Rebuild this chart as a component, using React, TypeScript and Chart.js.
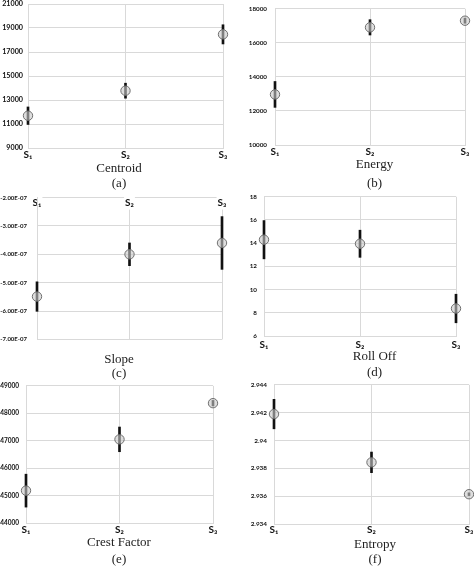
import React, { useEffect, useRef } from 'react';
import { Chart, registerables } from 'chart.js';

Chart.register(...registerables);

// ---- data ----
const categories = ['S₁', 'S₂', 'S₃'];

const centroidMean = [11690, 13775, 18470];
const centroidErr = [730, 625, 800];
const centroidAxis = [9000, 21000, 2000];

const energyMean = [12970, 16910, 17300];
const energyErr = [760, 450, 150];
const energyAxis = [10000, 18000, 2000];

const slopeMean = [-5.49e-7, -4.0e-7, -3.6e-7];
const slopeErr = [0.52e-7, 0.4e-7, 0.93e-7];
const slopeAxis = [-7e-7, -2e-7, 1e-7];

const rollOffMean = [14.3, 13.95, 8.37];
const rollOffErr = [1.65, 1.17, 1.23];
const rollOffAxis = [6, 18, 2];

const crestMean = [45180, 47050, 48370];
const crestErr = [600, 450, 100];
const crestAxis = [44000, 49000, 1000];

const entropyMean = [2.9419, 2.93843, 2.93614];
const entropyErr = [0.00106, 0.00074, 0.0001];
const entropyAxis = [2.934, 2.944, 0.002];

// ---- formatters ----
const fmtPlain = (v: number) => String(Math.round(v));
const fmtDec = (v: number) => String(parseFloat(v.toFixed(3)));
const fmtExp = (v: number) => {
  const [m, e] = v.toExponential(2).split('e');
  const n = parseInt(e, 10);
  return m.toUpperCase() + 'E' + (n < 0 ? '-' : '+') + String(Math.abs(n)).padStart(2, '0');
};

const GRID = '#d9d9d9';
const TICK_FONT = "Lato, 'DejaVu Sans', sans-serif";
const SERIF = "'Liberation Serif', 'Times New Roman', serif";

type Spec = {
  mean: number[];
  err: number[];
  axis: number[];
  fmt: (v: number) => string;
  L: number; R: number; T: number; B: number;
  tickSize: number; tickPad: number;
  xTop?: boolean; xPad: number;
  name: string; letter: string;
  cx: number; nameBase: number; letterBase: number;
};

const specs: Spec[] = [
  { mean: centroidMean, err: centroidErr, axis: centroidAxis, fmt: fmtPlain,
    L: 27.7, R: 222.7, T: 4, B: 148, tickSize: 7.2, tickPad: 5, xPad: 1,
    name: 'Centroid', letter: '(a)', cx: 119, nameBase: 172.5, letterBase: 187 },
  { mean: energyMean, err: energyErr, axis: energyAxis, fmt: fmtPlain,
    L: 275.3, R: 465.7, T: 7.3, B: 145.7, tickSize: 6.3, tickPad: 8, xPad: 1,
    name: 'Energy', letter: '(b)', cx: 374.5, nameBase: 168.5, letterBase: 187 },
  { mean: slopeMean, err: slopeErr, axis: slopeAxis, fmt: fmtExp,
    L: 36.7, R: 221.7, T: 194.3, B: 347.5, tickSize: 6, tickPad: 10, xTop: true, xPad: -1,
    name: 'Slope', letter: '(c)', cx: 119, nameBase: 363.5, letterBase: 377 },
  { mean: rollOffMean, err: rollOffErr, axis: rollOffAxis, fmt: fmtPlain,
    L: 263.7, R: 455.3, T: 196, B: 335.7, tickSize: 6.3, tickPad: 7, xPad: 2.6,
    name: 'Roll Off', letter: '(d)', cx: 374.5, nameBase: 360.5, letterBase: 376 },
  { mean: crestMean, err: crestErr, axis: crestAxis, fmt: fmtPlain,
    L: 25.7, R: 212.7, T: 385.3, B: 523, tickSize: 6.5, tickPad: 7, xPad: 0.3,
    name: 'Crest Factor', letter: '(e)', cx: 119, nameBase: 546, letterBase: 563 },
  { mean: entropyMean, err: entropyErr, axis: entropyAxis, fmt: fmtDec,
    L: 273.7, R: 468.7, T: 384.3, B: 524.3, tickSize: 6.4, tickPad: 7, xPad: 0,
    name: 'Entropy', letter: '(f)', cx: 375, nameBase: 548.5, letterBase: 563.5 },
];

function Panel({ spec }: { spec: Spec }) {
  const ref = useRef<HTMLCanvasElement>(null);
  const YW = 45;
  const PT = 10;
  const PR = 16;
  const XH = spec.xTop ? 0 : 22;
  const PB = spec.xTop ? 6 : 0;
  const w = Math.round(spec.R - spec.L) + YW + PR;
  const h = Math.round(spec.B - spec.T) + PT + XH + PB;

  useEffect(() => {
    if (!ref.current) return;
    const ranges = spec.mean.map((m, i) => [m - spec.err[i], m + spec.err[i]]);
    const chart = new Chart(ref.current, {
      type: 'bar',
      data: {
        labels: categories,
        datasets: [
          {
            type: 'bar',
            data: ranges as any,
            backgroundColor: '#111111',
            borderWidth: 0,
            barThickness: 2,
            order: 2,
            clip: false as any,
          },
          {
            type: 'line',
            data: spec.mean,
            showLine: false,
            pointRadius: 4.7,
            pointBackgroundColor: 'rgba(200,200,200,0.6)',
            pointBorderColor: '#6f6f6f',
            pointBorderWidth: 1,
            order: 1,
            clip: false as any,
          } as any,
        ],
      },
      options: {
        animation: false,
        responsive: false,
        events: [],
        layout: { padding: { top: PT, right: PR, bottom: PB, left: 0 } },
        plugins: { legend: { display: false }, tooltip: { enabled: false } },
        scales: {
          x: {
            position: spec.xTop ? 'top' : 'bottom',
            offset: false,
            grid: { offset: false, color: GRID, lineWidth: 1, drawTicks: false },
            border: { color: GRID, width: 1 },
            ticks: {
              padding: spec.xPad,
              mirror: !!spec.xTop,
              color: '#111',
              font: { family: TICK_FONT, size: 10, weight: 'bold' },
              maxRotation: 0,
              autoSkip: false,
              showLabelBackdrop: !!spec.xTop,
              backdropColor: '#ffffff',
              backdropPadding: 1,
            } as any,
            afterFit: (s: any) => { s.height = XH; },
          },
          y: {
            beginAtZero: false,
            min: spec.axis[0],
            max: spec.axis[1],
            grid: { color: GRID, lineWidth: 1, drawTicks: false },
            border: { color: GRID, width: 1 },
            ticks: {
              stepSize: spec.axis[2],
              padding: spec.tickPad,
              color: '#111',
              font: { family: TICK_FONT, size: spec.tickSize, weight: 'bold' },
              callback: (v: any) => spec.fmt(Number(v)),
            },
            afterFit: (s: any) => { s.width = YW; },
          },
        },
      },
    });
    return () => chart.destroy();
  }, []);

  return (
    <canvas
      ref={ref}
      width={w}
      height={h}
      style={{ position: 'absolute', left: spec.L - YW, top: spec.T - PT, width: w, height: h }}
    />
  );
}

function Caption({ text, cx, base }: { text: string; cx: number; base: number }) {
  return (
    <div
      style={{
        position: 'absolute',
        left: cx - 100,
        width: 200,
        top: base - 11.4,
        textAlign: 'center',
        fontFamily: SERIF,
        fontSize: 13,
        lineHeight: '14px',
        color: '#222',
        whiteSpace: 'nowrap',
      }}
    >
      {text}
    </div>
  );
}

export default function App() {
  return (
    <div
      style={{
        position: 'absolute',
        left: 0,
        top: 0,
        width: 474,
        height: 566,
        overflow: 'hidden',
        background: '#ffffff',
      }}
    >
      {specs.map((s, i) => (
        <Panel key={'p' + i} spec={s} />
      ))}
      {specs.map((s, i) => (
        <React.Fragment key={'c' + i}>
          <Caption text={s.name} cx={s.cx} base={s.nameBase} />
          <Caption text={s.letter} cx={s.cx} base={s.letterBase} />
        </React.Fragment>
      ))}
    </div>
  );
}
